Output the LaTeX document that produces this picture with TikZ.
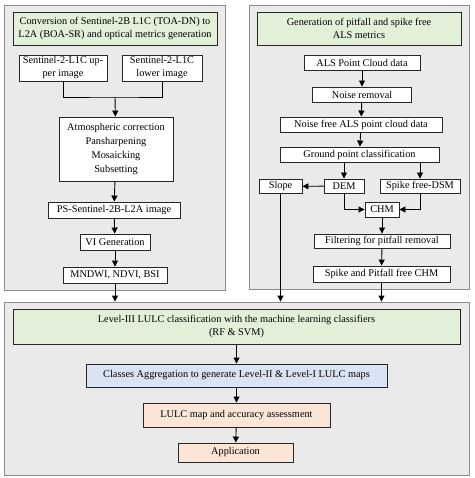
\documentclass[tikz,border=0pt]{standalone}
\usepackage{fontspec}
\setmainfont{Liberation Serif}
\usepackage{tikz}
\usetikzlibrary{arrows.meta}

\definecolor{panelgray}{RGB}{234,234,234}
\definecolor{panelline}{RGB}{140,140,140}
\definecolor{headgreen}{RGB}{226,240,217}
\definecolor{aggblue}{RGB}{218,227,243}
\definecolor{accorange}{RGB}{251,229,214}

\begin{document}
\begin{tikzpicture}[x=1pt,y=-1pt,
    font=\fontsize{10.3}{13}\selectfont,
    panel/.style={draw=panelline, fill=panelgray, line width=0.9pt, inner sep=0pt},
    procbox/.style={draw=black!85, fill=white, line width=0.9pt, inner sep=0pt, align=center},
    headbox/.style={procbox, fill=headgreen},
    aggbox/.style={procbox, fill=aggblue},
    accbox/.style={procbox, fill=accorange},
    arr/.style={-{Triangle[length=6pt,width=6pt]}, line width=0.9pt}]
          \useasboundingbox (0,0) rectangle (474,478);
          % panels
          \node[panel, minimum width=221pt, minimum height=285pt] (lpanel) at (114.5,147.5) {};
          \node[panel, minimum width=220pt, minimum height=284pt] (rpanel) at (359,147) {};
          \node[panel, minimum width=465pt, minimum height=173pt] (bpanel) at (236.5,388.5) {};
          % left panel: optical
          \node[headbox, minimum width=204pt, minimum height=33pt] (lhead) at (115,28.5)
                {Conversion of Sentinel-2B L1C (TOA-DN) to\\L2A (BOA-SR) and optical metrics generation};
          \node[procbox, minimum width=88pt, minimum height=26pt] (upimg) at (63,68) {Sentinel-2-L1C up-\\per image};
          \node[procbox, minimum width=80pt, minimum height=26pt] (lowimg) at (162,68) {Sentinel-2-L1C\\lower image};
          \node[procbox, minimum width=114pt, minimum height=64pt, font=\fontsize{10.3}{14}\selectfont] (atm) at (116,149)
                {Atmospheric correction\\Pansharpening\\Mosaicking\\Subsetting};
          \node[procbox, minimum width=132pt, minimum height=16pt] (ps) at (114,210) {PS-Sentinel-2B-L2A image};
          \node[procbox, minimum width=70pt, minimum height=16pt] (vi) at (115,242) {VI Generation};
          \node[procbox, minimum width=104pt, minimum height=16pt] (vidx) at (115,275) {MNDWI, NDVI, BSI};
          \coordinate (mrg) at (115,97);
          \draw[line width=0.9pt] (upimg) |- (mrg) -| (lowimg);
          \draw[arr] (mrg) -- (atm);
          \draw[arr] (atm) -- (ps);
          \draw[arr] (ps) -- (vi);
          \draw[arr] (vi) -- (vidx);
          \draw[arr] (vidx) -- (vidx |- bpanel.north);
          % right panel: ALS
          \node[headbox, minimum width=204pt, minimum height=33pt] (rhead) at (359,28.5)
                {Generation of pitfall and spike free\\ALS metrics};
          \node[procbox, minimum width=116pt, minimum height=15pt] (als) at (362,62.5) {ALS Point Cloud data};
          \node[procbox, minimum width=99pt, minimum height=15pt] (noise) at (362,94.5) {Noise removal};
          \node[procbox, minimum width=162pt, minimum height=15pt] (nfree) at (361,124.5) {Noise free ALS point cloud data};
          \node[procbox, minimum width=159pt, minimum height=15pt] (gpc) at (359.5,154.5) {Ground point classification};
          \node[procbox, minimum width=40pt, minimum height=14pt] (dem) at (344,186) {DEM};
          \node[procbox, minimum width=43pt, minimum height=14pt] (slope) at (280.5,186.5) {Slope};
          \node[procbox, minimum width=80pt, minimum height=14pt] (dsm) at (420,186) {Spike free-DSM};
          \node[procbox, minimum width=34pt, minimum height=15pt] (chm) at (382,209.5) {CHM};
          \node[procbox, minimum width=136pt, minimum height=14pt] (filt) at (382,241) {Filtering for pitfall removal};
          \node[procbox, minimum width=137pt, minimum height=16pt] (spk) at (381.5,274) {Spike and Pitfall free CHM};
          \draw[arr] (als) -- (noise);
          \draw[arr] (noise) -- (nfree);
          \draw[arr] (nfree) -- (gpc);
          \draw[arr] (gpc.south -| dem) -- (dem);
          \draw[arr] (gpc.south -| dsm) -- (dsm);
          \draw[arr] (dem) -- (slope);
          \draw[arr] (dem) |- (chm);
          \draw[arr] (dsm) |- (chm);
          \draw[arr] (chm) -- (filt);
          \draw[arr] (filt) -- (spk);
          \draw[arr] (slope) -- (slope |- bpanel.north);
          \draw[arr] (spk) -- (spk |- bpanel.north);
          % bottom panel: classification
          \node[headbox, minimum width=447pt, minimum height=35pt] (lvl3) at (236.5,326.5)
                {Level-III LULC classification with the machine learning classifiers\\(RF \& SVM)};
          \node[aggbox, minimum width=301pt, minimum height=23pt] (agg) at (236.5,375.5)
                {Classes Aggregation to generate Level-II \& Level-I LULC maps};
          \node[accbox, minimum width=187pt, minimum height=24pt] (acc) at (236.5,415) {LULC map and accuracy assessment};
          \node[accbox, minimum width=115pt, minimum height=19pt] (app) at (235.5,452.5) {Application};
          \draw[arr] (lvl3) -- (agg);
          \draw[arr] (agg) -- (acc);
          \draw[arr] (acc) -- (app);
        \end{tikzpicture}
\end{document}
